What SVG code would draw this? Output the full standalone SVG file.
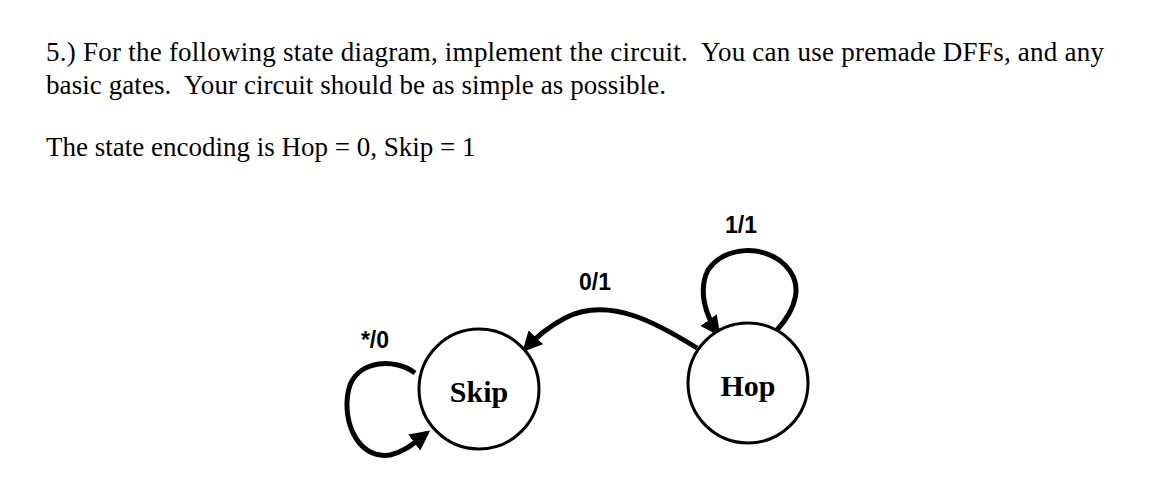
<svg xmlns="http://www.w3.org/2000/svg" width="1158" height="478" viewBox="0 0 1158 478">
<style>
.q{font-family:"Liberation Serif",serif;font-size:27px;fill:#000;white-space:pre}
.st{fill:#fff;stroke:#000;stroke-width:3}
.sn{font-family:"Liberation Serif",serif;font-weight:bold;font-size:30px;text-anchor:middle}
.lb{font-family:"Liberation Sans",sans-serif;font-weight:bold;font-size:23px;text-anchor:middle}
.e{fill:none;stroke:#000;stroke-width:5;marker-end:url(#a)}
</style>
<defs><marker id="a" viewBox="0 0 10 10" refX="8" refY="5" markerWidth="4" markerHeight="4" orient="auto" markerUnits="strokeWidth"><path d="M0,0L10,5L0,10z" fill="#000"/></marker></defs>
<rect width="1158" height="478" fill="#fff"/>
<text class="q" x="46" y="61" xml:space="preserve" textLength="1058" lengthAdjust="spacing">5.) For the following state diagram, implement the circuit.  You can use premade DFFs, and any</text>
<text class="q" x="46" y="94" xml:space="preserve" textLength="620" lengthAdjust="spacing">basic gates.  Your circuit should be as simple as possible.</text>
<text class="q" x="46" y="156">The state encoding is Hop = 0, Skip = 1</text>
<g id="connectors">
<path class="e" d="M415,373 C395,358 360,360 350,385 C340,415 355,460 390,455 C405,452 415,442 427,433"/>
<path class="e" d="M697,348 C660,325 610,295 565,318 C550,326 538,335 525,349"/>
<path class="e" d="M777,330 C795,310 805,285 785,265 C765,245 725,245 708,270 C698,290 705,315 718,333"/>
</g>
<g id="skip"><circle class="st" cx="479" cy="389" r="60"/><text class="sn" x="479" y="402">Skip</text></g>
<g id="hop"><circle class="st" cx="748" cy="383" r="60"/><text class="sn" x="748" y="396">Hop</text></g>
<text class="lb" x="375" y="348">*/0</text>
<text class="lb" x="595" y="290">0/1</text>
<text class="lb" x="741" y="233">1/1</text>
</svg>
